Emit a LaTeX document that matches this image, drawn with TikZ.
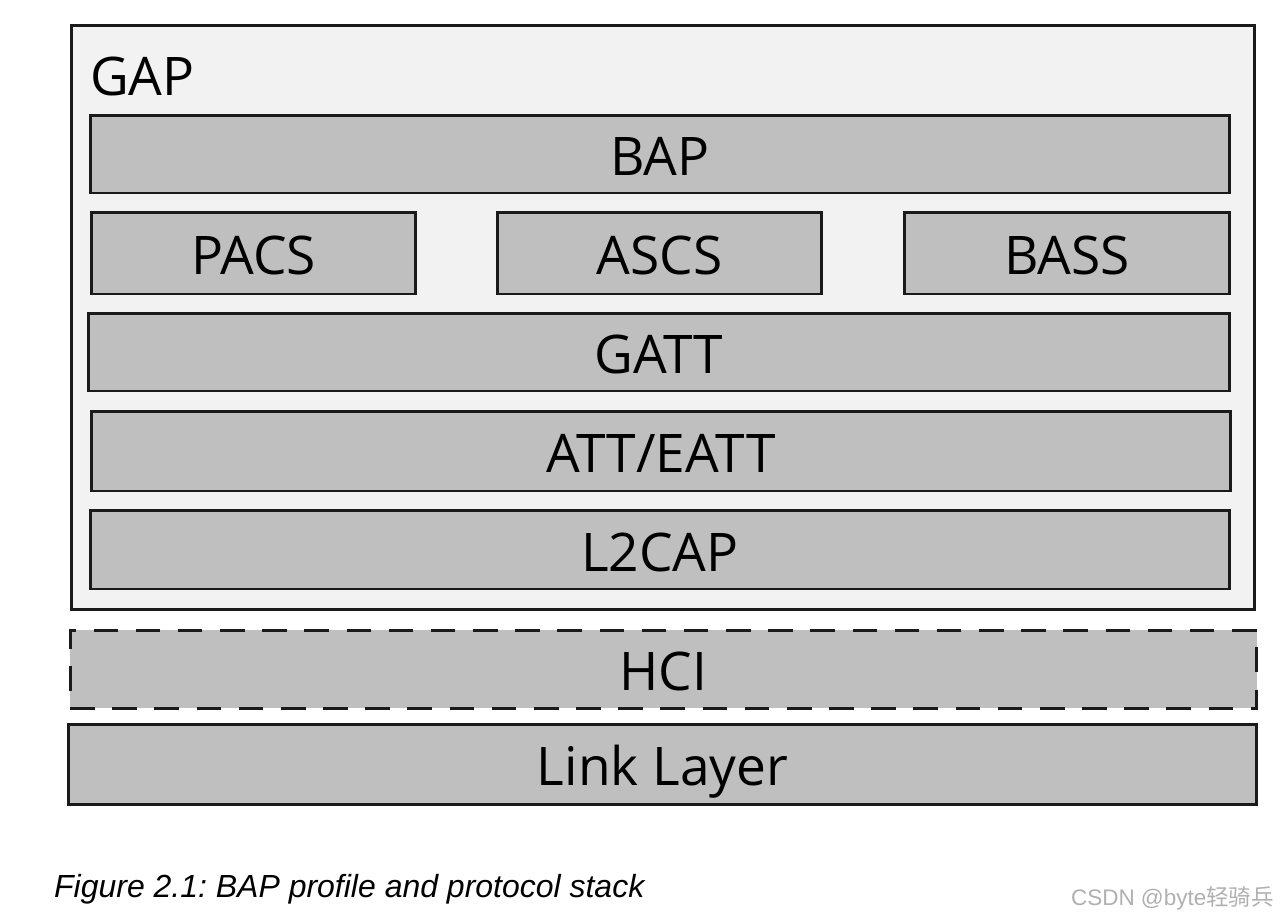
\documentclass[tikz,border=0pt]{standalone}
\usepackage{fontspec}
\setmainfont{Open Sans}
\newfontfamily\capfont{Liberation Sans}
\newfontfamily\cjkfont{Noto Sans CJK SC}
\usepackage{xcolor}
\usetikzlibrary{positioning}
\definecolor{layergray}{HTML}{BFBFBF}
\definecolor{gapgray}{HTML}{F2F2F2}
\definecolor{edgeblack}{HTML}{1A1A1A}
\definecolor{markgray}{HTML}{B0B0B0}
\frenchspacing

\tikzset{
  layer/.style={draw=edgeblack,fill=layergray,line width=1.7pt,inner sep=0pt,
    minimum height=1.56cm,text height=25pt,text depth=0pt,
    font=\fontsize{30.3}{35}\selectfont},
  wide/.style={layer,minimum width=22.8cm},
  third/.style={layer,minimum width=6.5cm,minimum height=1.64cm}
}

\begin{document}
\begin{tikzpicture}[x=0.02cm,y=-0.02cm]
    \useasboundingbox[fill=white] (0,0) rectangle (1280,920);
    % outer profile box
    \node[draw=edgeblack,fill=gapgray,line width=1.7pt,minimum width=23.68cm,minimum height=11.7cm] (gap) at (663,317.5) {};
    \node[anchor=west,font=\fontsize{30.3}{35}\selectfont] (gaplbl) at (84,76) {GAP};
    \node[wide] (bap) at (660,154) {BAP};
    \node[third] (pacs) at (253.5,253) {PACS};
    \node[third] (ascs) at (659.5,253) {ASCS};
    \node[third] (bass) at (1067,253) {BASS};
    \node[wide,minimum width=22.84cm] (gatt) at (659,352) {GATT};
    \node[wide,minimum height=1.6cm] (att) at (661,451) {ATT/EATT};
    \node[wide,minimum height=1.58cm] (ltcap) at (660,549.5) {L2CAP};
    % controller side
    \node[layer,dash pattern=on 14pt off 10pt,minimum width=23.74cm] (hci) at (663.5,669) {HCI};
    \node[layer,minimum width=23.78cm,minimum height=1.6cm] (link) at (662.5,764) {Link Layer};
    % caption and mark
    \node[anchor=west,font=\capfont\itshape\fontsize{18.2}{22}\selectfont] (caption) at (48,889) {Figure 2.1: BAP profile and protocol stack};
    \node[anchor=east,text=markgray,font=\capfont\fontsize{12.8}{15}\selectfont] (mark) at (1280,898) {CSDN @byte{\cjkfont 轻骑兵}};
  \end{tikzpicture}
\end{document}
